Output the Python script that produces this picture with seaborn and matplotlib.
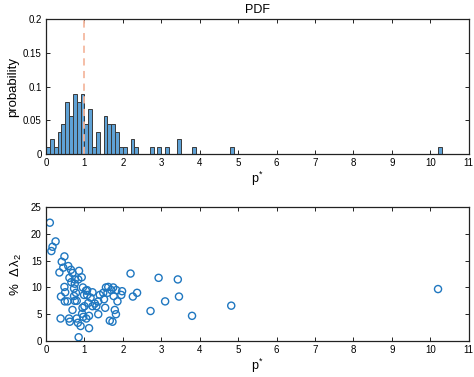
import matplotlib
matplotlib.use("Agg")
import matplotlib.pyplot as plt
import seaborn as sns
import numpy as np
import pandas as pd

# histogram: bin left edges (width 0.1) and probabilities
bin_left = [0.0, 0.1, 0.2, 0.3, 0.4, 0.5, 0.6, 0.7, 0.8, 0.9,
            1.0, 1.1, 1.2, 1.3, 1.5, 1.6, 1.7, 1.8, 1.9, 2.0,
            2.2, 2.3, 2.7, 2.9, 3.1, 3.4, 3.8, 4.8, 10.2]
bin_prob = [0.0111, 0.0222, 0.0111, 0.0333, 0.0444, 0.0778, 0.0556, 0.0889, 0.0778, 0.0889,
            0.0444, 0.0667, 0.0111, 0.0333, 0.0556, 0.0444, 0.0444, 0.0333, 0.0111, 0.0111,
            0.0222, 0.0111, 0.0111, 0.0111, 0.0111, 0.0222, 0.0111, 0.0111, 0.0111]

# scatter: p* vs % delta lambda_2
p_star = [0.10, 0.25, 0.17, 0.14, 0.48, 0.41, 0.35, 0.45, 0.58, 0.65,
          0.61, 0.69, 0.86, 0.75, 0.84, 0.93, 0.48, 0.50, 0.75, 0.73,
          0.39, 0.49, 0.56, 0.73, 0.75, 0.80, 0.78, 0.96, 1.04, 0.99,
          1.07, 1.21, 1.16, 1.10, 1.21, 1.31, 1.36, 0.95, 1.00, 0.69,
          0.94, 0.97, 1.05, 1.12, 0.80, 0.60, 0.38, 0.62, 0.83, 0.90,
          1.12, 0.85, 1.36, 1.54, 1.51, 1.49, 1.56, 1.62, 1.60, 1.70,
          1.75, 1.76, 1.83, 1.86, 1.79, 1.82, 1.66, 1.73, 1.98, 1.96,
          2.20, 2.26, 2.37, 2.72, 2.93, 3.10, 3.43, 3.46, 3.80, 4.82,
          10.20, 1.07, 1.27, 1.40, 0.66]
delta_lambda = [22.1, 18.6, 17.6, 16.8, 15.8, 14.8, 12.8, 13.7, 14.0, 13.3,
                11.8, 12.7, 13.1, 11.5, 11.5, 11.9, 10.1, 9.1, 10.7, 9.8,
                8.3, 7.4, 7.4, 8.4, 7.5, 7.5, 9.0, 10.0, 9.4, 8.6,
                8.6, 9.1, 8.1, 7.1, 6.5, 6.5, 7.4, 6.2, 6.5, 5.8,
                5.1, 4.5, 4.2, 4.7, 4.2, 4.2, 4.2, 3.6, 3.4, 2.8,
                2.4, 0.7, 5.0, 6.2, 7.8, 9.0, 10.0, 10.1, 9.0, 9.5,
                10.0, 8.4, 9.5, 7.4, 5.8, 5.0, 3.8, 3.6, 9.3, 8.6,
                12.6, 8.3, 9.0, 5.6, 11.8, 7.4, 11.5, 8.3, 4.7, 6.6,
                9.7, 9.5, 7.0, 8.6, 11.0]

sns.set_style("ticks")
plt.rcParams['font.family'] = ['Liberation Sans', 'DejaVu Sans']
plt.rcParams['mathtext.fontset'] = 'custom'
plt.rcParams['mathtext.rm'] = 'Liberation Sans'
plt.rcParams['mathtext.it'] = 'Liberation Sans'
plt.rcParams['text.color'] = 'black'
plt.rcParams['axes.labelcolor'] = 'black'

fig = plt.figure(figsize=(4.74, 3.77), dpi=100)
ax1 = fig.add_axes([0.097, 0.5915, 0.892, 0.358])
ax2 = fig.add_axes([0.097, 0.0955, 0.892, 0.355])

hist_df = pd.DataFrame({'center': [b + 0.05 for b in bin_left], 'prob': bin_prob})
edges = [round(0.1 * i, 2) for i in range(111)]
sns.histplot(data=hist_df, x='center', weights='prob', bins=edges, ax=ax1,
             color='#5fa2d6', alpha=1.0, edgecolor='#3a3a3a', linewidth=0.7)
ax1.plot([1, 1], [0, 0.2], linestyle=(0, (4, 3)), color='#f5b9a0', linewidth=1.3)
ax1.set_xlim(0, 11)
ax1.set_ylim(0, 0.2)
ax1.set_yticks([0, 0.05, 0.1, 0.15, 0.2])
ax1.set_yticklabels(['0', '0.05', '0.1', '0.15', '0.2'])
ax1.set_title('PDF', fontsize=9, pad=4)
ax1.set_ylabel('probability', fontsize=9.5, labelpad=3)
ax1.set_xlabel('p$^{*}$', fontsize=9, labelpad=1)

sc_df = pd.DataFrame({'p': p_star, 'dl': delta_lambda})
sns.scatterplot(data=sc_df, x='p', y='dl', ax=ax2, marker='o', s=26,
                facecolors='none', edgecolor='#1f77c0', linewidth=1.0)
ax2.set_xlim(0, 11)
ax2.set_ylim(0, 25)
ax2.set_yticks([0, 5, 10, 15, 20, 25])
ax2.set_ylabel('%  $\\Delta\\,\\lambda_2$', fontsize=9.5, labelpad=5)
ax2.set_xlabel('p$^{*}$', fontsize=9, labelpad=1)

for ax in (ax1, ax2):
    ax.set_xticks(range(12))
    ax.tick_params(direction='in', top=True, right=True, labelsize=7,
                   length=3, width=0.6, pad=3, colors='black')
    for sp in ax.spines.values():
        sp.set_visible(True)
        sp.set_linewidth(0.9)
        sp.set_color('#222222')

fig.savefig('out.png', dpi=100)
